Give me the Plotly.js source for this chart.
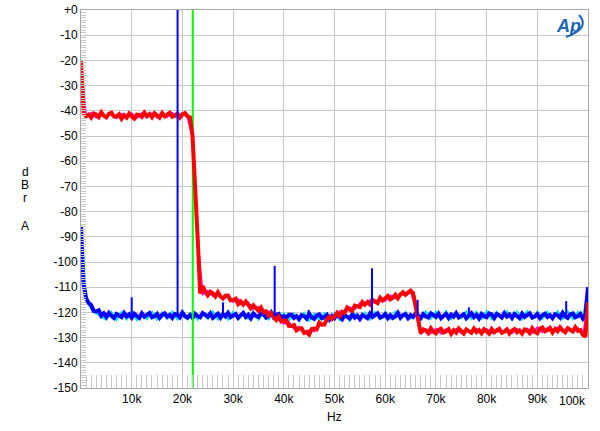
<!DOCTYPE html>
<html><head><meta charset="utf-8">
<script src="https://cdn.plot.ly/plotly-3.0.1.min.js"></script>
<style>html,body{margin:0;padding:0;background:#fff}#chart{width:600px;height:431px}</style>
</head><body><div id="chart"></div>
<script>
// Frequency grid (kHz), 0.5 kHz steps
const freqK = [
0,0.5,1,1.5,2,2.5,3,3.5,4,4.5, 5,5.5,6,6.5,7,7.5,8,8.5,9,9.5,
10,10.5,11,11.5,12,12.5,13,13.5,14,14.5, 15,15.5,16,16.5,17,17.5,18,18.5,19,19.5,
20,20.5,21,21.5,22,22.5,23,23.5,24,24.5, 25,25.5,26,26.5,27,27.5,28,28.5,29,29.5,
30,30.5,31,31.5,32,32.5,33,33.5,34,34.5, 35,35.5,36,36.5,37,37.5,38,38.5,39,39.5,
40,40.5,41,41.5,42,42.5,43,43.5,44,44.5, 45,45.5,46,46.5,47,47.5,48,48.5,49,49.5,
50,50.5,51,51.5,52,52.5,53,53.5,54,54.5, 55,55.5,56,56.5,57,57.5,58,58.5,59,59.5,
60,60.5,61,61.5,62,62.5,63,63.5,64,64.5, 65,65.5,66,66.5,67,67.5,68,68.5,69,69.5,
70,70.5,71,71.5,72,72.5,73,73.5,74,74.5, 75,75.5,76,76.5,77,77.5,78,78.5,79,79.5,
80,80.5,81,81.5,82,82.5,83,83.5,84,84.5, 85,85.5,86,86.5,87,87.5,88,88.5,89,89.5,
90,90.5,91,91.5,92,92.5,93,93.5,94,94.5, 95,95.5,96,96.5,97,97.5,98,98.5,99,99.5,
100];

// Red channel (dBr)
const redDb = [
-20,-40.9,-42.2,-41.5,-42.7,-41.1,-41.5,-42.5,-40.6,-42.0,
-42.6,-41.2,-40.8,-42.3,-42.3,-41.4,-43.2,-41.8,-42.7,-41.1,
-42.3,-43.1,-41.5,-41.6,-42.4,-40.7,-42.1,-41.3,-42.6,-41.0,
-41.8,-42.7,-40.9,-42.2,-41.5,-40.8,-42.4,-42.0,-41.1,-42.7,
-41.5,-40.9,-42.2,-42.6,-50,-68,-90,-112.5,-109.5,-111.8,
-113.2,-111.8,-112.4,-113.7,-112.0,-113.7,-114.5,-113.4,-113.3,-115.2,
-115.1,-114.6,-116.7,-115.7,-116.9,-115.7,-117.2,-118.4,-117.2,-118.1,
-119.3,-118.1,-119.9,-119.6,-121.3,-120.2,-121.5,-123.0,-121.7,-123.6,
-123.4,-123.2,-125.3,-125.4,-125.0,-127.1,-126.4,-126.3,-128.1,-127.8,
-128.8,-126.6,-126.4,-126.7,-124.1,-124.9,-124.8,-122.8,-121.7,-122.6,
-121.6,-120.2,-121.5,-119.7,-120.1,-118.1,-118.9,-119.3,-117.3,-117.5,
-117.9,-115.9,-116.9,-115.9,-116.9,-115.1,-115.6,-116.3,-114.2,-115.3,
-114.4,-113.5,-114.8,-114.2,-113.0,-114.4,-112.9,-112.0,-113.0,-112.1,
-111.4,-112.3,-117.5,-124.5,-128.2,-126.8,-127.2,-128.2,-126.3,-127.7,
-128.3,-126.9,-126.5,-128.0,-127.6,-126.7,-128.5,-127.1,-128.0,-126.4,
-127.6,-128.4,-126.8,-127.3,-128.1,-126.4,-127.8,-127.0,-128.3,-126.7,
-127.5,-128.4,-126.6,-127.9,-127.2,-126.5,-128.1,-127.7,-126.8,-128.4,
-127.2,-126.6,-127.9,-127.2,-128.4,-126.8,-127.2,-128.2,-126.3,-127.7,
-128.3,-126.4,-126.0,-127.5,-127.1,-126.2,-128.0,-126.6,-127.5,-125.9,
-127.1,-127.9,-126.3,-126.8,-127.6,-125.9,-127.3,-127.0,-128.9,-129.6,
-116];

// Blue channel (dBr)
const blueDb = [
-86,-109,-114.3,-116.3,-117.1,-119.4,-119.6,-119.2,-121.4,-120.4,
-121.8,-120.2,-121.4,-122.2,-120.6,-121.1,-121.9,-120.2,-121.6,-120.8,
-122.1,-120.5,-121.3,-122.2,-120.4,-121.7,-121.0,-120.3,-121.9,-121.5,
-120.6,-122.2,-121.0,-120.4,-121.7,-121.0,-122.2,-120.6,-121.0,-122.0,
-120.1,-121.5,-122.1,-121.0,-122.2,-120.6,-121.5,-121.9,-120.3,-121.0,
-121.7,-120.4,-122.2,-121.3,-120.5,-122.1,-120.8,-121.6,-120.2,-121.9,
-121.1,-120.6,-122.2,-121.4,-120.2,-121.8,-120.9,-122.3,-120.5,-121.4,
-121.8,-120.3,-120.7,-122.1,-121.5,-120.1,-122.0,-121.0,-120.6,-122.2,
-121.5,-122.2,-120.9,-120.9,-122.2,-121.5,-122.7,-121.1,-121.5,-122.5,
-120.6,-122.0,-122.6,-121.2,-120.8,-122.3,-121.9,-121.0,-122.8,-121.4,
-122.3,-120.7,-121.9,-122.7,-121.1,-121.6,-122.4,-120.7,-122.1,-121.3,
-122.6,-121.0,-121.8,-122.3,-120.5,-121.8,-121.1,-120.4,-122.0,-121.6,
-120.7,-122.3,-121.1,-122.2,-121.6,-120.2,-122.1,-121.1,-120.7,-122.3,
-121.1,-121.8,-120.5,-121.1,-122.3,-120.7,-121.6,-122.0,-120.4,-121.1,
-121.8,-120.5,-122.3,-121.4,-120.6,-122.2,-120.9,-121.7,-120.3,-122.0,
-121.2,-120.7,-122.3,-121.5,-120.3,-121.9,-121.0,-122.4,-120.6,-121.5,
-121.9,-120.4,-120.8,-122.3,-120.7,-121.2,-122.0,-120.3,-121.7,-120.9,
-122.2,-120.6,-121.4,-122.3,-120.5,-121.8,-121.1,-120.4,-122.0,-121.6,
-120.7,-122.3,-121.1,-120.5,-121.8,-121.1,-122.3,-120.7,-121.1,-122.1,
-120.2,-121.6,-122.2,-120.8,-120.4,-121.9,-121.5,-120.6,-122.4,-121.0,
-110];

// Second-trace grid (kHz), 1 kHz steps
const freq1K = [
0,1,2,3,4,5,6,7,8,9,10,11,12,13,14,15,16,17,18,19,
20,21,22,23,24,25,26,27,28,29,30,31,32,33,34,35,36,37,38,39,
40,41,42,43,44,45,46,47,48,49,50,51,52,53,54,55,56,57,58,59,
60,61,62,63,64,65,66,67,68,69,70,71,72,73,74,75,76,77,78,79,
80,81,82,83,84,85,86,87,88,89,90,91,92,93,94,95,96,97,98,99,100];

// Magenta channel (dBr)
const magentaDb = [
-21,-42.4,-40.9,-42.7,-41.0,-42.6,-40.8,-42.9,-41.2,-42.8,
-41.0,-42.9,-40.9,-42.6,-41.0,-42.7,-40.8,-42.5,-40.9,-42.6,
-40.9,-42.4,-50.5,-91,-112.8,-111.4,-113.5,-112.3,-114.5,-113.3,
-115.8,-114.7,-117.2,-116.1,-118.7,-117.8,-120.4,-119.6,-122.4,-121.7,
-124.5,-123.8,-126.5,-125.8,-128.6,-127.0,-127.5,-124.4,-124.8,-121.8,
-122.3,-119.6,-120.3,-118.0,-118.7,-116.4,-117.4,-115.2,-116.3,-114.2,
-115.4,-113.3,-114.4,-112.3,-113.3,-111.3,-118,-128.6,-126.6,-128.3,
-126.5,-128.4,-126.6,-128.5,-126.6,-128.2,-126.4,-128.3,-126.5,-128.4,
-126.6,-128.2,-126.5,-128.3,-126.3,-128.2,-126.5,-128.4,-126.4,-128.2,
-126.0,-127.8,-126.1,-127.9,-125.9,-127.7,-126.0,-127.8,-126.3,-129.2,
-117];

// Cyan channel (dBr)
const cyanDb = [
-86,-114.8,-118.6,-120.4,-121.8,-122.9,-119.8,-123.0,-119.9,-122.8,
-119.7,-123.1,-120.0,-122.7,-119.8,-122.9,-120.1,-122.6,-119.7,-122.8,
-119.9,-122.7,-119.8,-122.9,-120.0,-122.6,-119.7,-122.8,-119.9,-122.9,
-119.8,-122.7,-120.0,-122.6,-119.7,-122.9,-120.1,-122.8,-120.0,-123.0,
-120.3,-123.2,-120.4,-123.1,-120.2,-123.3,-120.5,-123.0,-120.3,-123.2,
-120.4,-123.1,-120.2,-123.3,-120.5,-122.9,-120.1,-122.8,-119.9,-122.7,
-119.8,-122.6,-119.7,-122.8,-119.9,-122.5,-119.8,-122.7,-119.6,-122.5,
-119.7,-122.6,-119.5,-122.7,-119.8,-122.4,-119.6,-122.5,-119.7,-122.6,
-119.5,-122.7,-119.8,-122.5,-119.6,-122.6,-119.7,-122.8,-119.5,-122.6,
-119.7,-122.5,-119.8,-122.7,-119.6,-122.6,-119.5,-122.7,-119.7,-122.5,
-110];

// Blue spurious tones
const spikeHzK   = [10, 19.05, 28, 38.2, 44.9, 57.4, 66.4, 76.5, 95.7];
const spikeTopDb = [-114, 0, -116, -101.5, -119, -102.5, -115, -118, -115.5];
const spikeBaseDb= [-121.5, -121.5, -121.5, -121.5, -121.5, -121.5, -121.5, -121.5, -121.5];

// Green marker
const markerHzK = [22.05, 22.05];
const markerDb  = [-150, 0];

// Tick labels
const xTickVals = [10,20,30,40,50,60,70,80,90];
const xTickText = ['10k','20k','30k','40k','50k','60k','70k','80k','90k'];
const yTickVals = [-150,-140,-130,-120,-110,-100,-90,-80,-70,-60,-50,-40,-30,-20,-10,0];
const yTickText = ['-150','-140','-130','-120','-110','-100','-90','-80','-70','-60','-50','-40','-30','-20','-10','+0'];

function spikes(hz, top, base, color, width){
  const x=[], y=[];
  for(let i=0;i<hz.length;i++){ x.push(hz[i],hz[i],null); y.push(base[i],top[i],null); }
  return {x:x, y:y, mode:'lines', line:{color:color, width:width}, hoverinfo:'skip', connectgaps:false};
}

const FONT = 'Liberation Sans, Arial, Helvetica, sans-serif';
const traces = [
  {x:freq1K, y:cyanDb, mode:'lines', line:{color:'#00e5ff', width:2}, hoverinfo:'skip'},
  {x:freqK, y:blueDb, mode:'lines', line:{color:'#0000ff', width:4}, hoverinfo:'skip'},
  {x:markerHzK, y:markerDb, mode:'lines', line:{color:'#00ff00', width:2}, hoverinfo:'skip'},
  {x:freq1K, y:magentaDb, mode:'lines', line:{color:'#ff00ff', width:2}, hoverinfo:'skip'},
  {x:freqK, y:redDb, mode:'lines', line:{color:'#ff0000', width:4}, hoverinfo:'skip'},
  spikes(spikeHzK, spikeTopDb, spikeBaseDb, '#0000ff', 2)
];

function px(x){ return (x-81)/507; }
function py(y){ return (388-y)/378; }

const layout = {
  width:600, height:431,
  margin:{l:81, r:12, t:10, b:43, pad:0},
  paper_bgcolor:'#ffffff', plot_bgcolor:'#ffffff',
  showlegend:false, hovermode:false,
  font:{family:FONT, size:12, color:'#000'},
  xaxis:{
    range:[0,100], tickmode:'array', tickvals:xTickVals, ticktext:xTickText,
    showgrid:true, gridcolor:'#c8c8c8', gridwidth:1, zeroline:false,
    ticks:'inside', ticklen:13, tickcolor:'#c8c8c8', tickwidth:1,
    minor:{tickmode:'linear', tick0:0, dtick:1, ticks:'inside', ticklen:13, tickcolor:'#c8c8c8', tickwidth:1, showgrid:false},
    showline:true, mirror:true, linecolor:'#a8a8a8', linewidth:1,
    tickfont:{family:FONT, size:12, color:'#000'}, fixedrange:true
  },
  yaxis:{
    range:[-150,0], tickmode:'array', tickvals:yTickVals, ticktext:yTickText,
    showgrid:true, gridcolor:'#c8c8c8', gridwidth:1, zeroline:false,
    ticks:'inside', ticklen:5, tickcolor:'#c8c8c8', tickwidth:1,
    minor:{tickmode:'linear', tick0:0, dtick:1, ticks:'inside', ticklen:5, tickcolor:'#c8c8c8', tickwidth:1, showgrid:false},
    showline:true, mirror:true, linecolor:'#a8a8a8', linewidth:1,
    tickfont:{family:FONT, size:12, color:'#000'}, fixedrange:true
  },
  annotations:[
    {x:100, xref:'x', y:0, yref:'paper', text:'100k', showarrow:false, xanchor:'right', yanchor:'top', yshift:-4, font:{family:FONT, size:12, color:'#000'}},
    {x:px(334), xref:'paper', y:py(417), yref:'paper', text:'Hz', showarrow:false, xanchor:'center', yanchor:'middle', font:{family:FONT, size:12, color:'#000'}},
    {x:px(25), xref:'paper', y:py(172), yref:'paper', text:'d', showarrow:false, xanchor:'center', yanchor:'middle', font:{family:FONT, size:12, color:'#000'}},
    {x:px(25), xref:'paper', y:py(185), yref:'paper', text:'B', showarrow:false, xanchor:'center', yanchor:'middle', font:{family:FONT, size:12, color:'#000'}},
    {x:px(25), xref:'paper', y:py(198), yref:'paper', text:'r', showarrow:false, xanchor:'center', yanchor:'middle', font:{family:FONT, size:12, color:'#000'}},
    {x:px(25), xref:'paper', y:py(226), yref:'paper', text:'A', showarrow:false, xanchor:'center', yanchor:'middle', font:{family:FONT, size:12, color:'#000'}},
    {x:px(568), xref:'paper', y:py(26), yref:'paper', text:'<b><i>Ap</i></b>', showarrow:false, xanchor:'center', yanchor:'middle', font:{family:FONT, size:18, color:'#1e64b4'}}
  ],
  shapes:[
    {type:'path', xref:'paper', yref:'paper',
     path:'M '+px(579)+' '+py(15)+' Q '+px(591)+' '+py(28)+' '+px(566)+' '+py(37),
     line:{color:'#1e64b4', width:2}}
  ]
};

Plotly.newPlot('chart', traces, layout, {staticPlot:true, displayModeBar:false});
</script>
</body></html>
